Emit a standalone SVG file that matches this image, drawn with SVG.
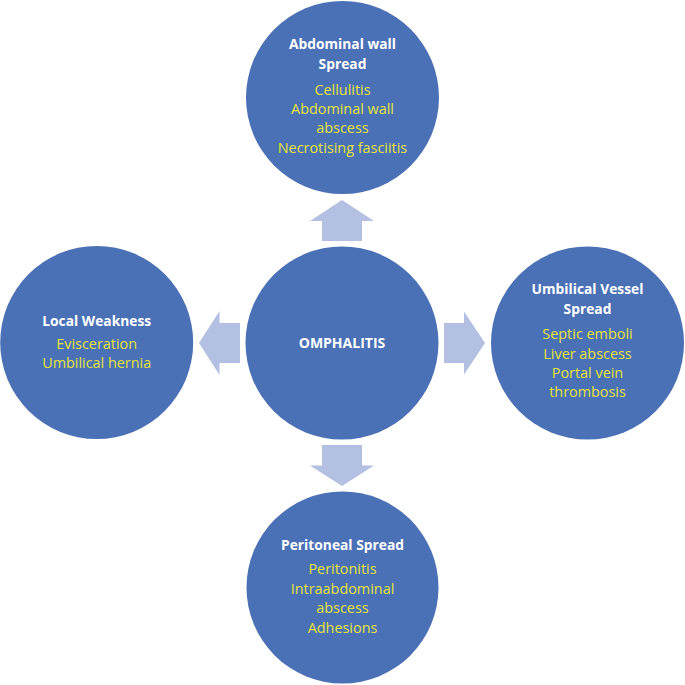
<svg xmlns="http://www.w3.org/2000/svg" width="685" height="685" viewBox="0 0 685 685">
<style>
.c{fill:#4a70b6}
.a{fill:#b3c0e1}
text{font-family:"Open Sans","Noto Sans",sans-serif;text-anchor:middle}
.h{fill:#ffffff;font-weight:bold;font-size:13.8px}
.t{fill:#e6e43a;font-size:14.4px}
</style>
<rect width="685" height="685" fill="#ffffff"/>
<g id="connectors">
<polygon class="a" points="322,241 322,221 310,221 342,200 374,221 362,221 362,241"/>
<polygon class="a" points="444,323 464,323 464,311.5 485,343 464,374.5 464,363 444,363"/>
<polygon class="a" points="240,323 219.5,323 219.5,311 199,343 219.5,375 219.5,363 240,363"/>
<polygon class="a" points="322,445 362,445 362,465.5 374,465.5 342,486 310,465.5 322,465.5"/>
</g>
<g id="center">
<circle class="c" cx="342" cy="343" r="96.5"/>
<text class="h" x="342" y="348.3" style="font-size:14px">OMPHALITIS</text>
</g>
<g id="top">
<circle class="c" cx="342.5" cy="97.5" r="96.5"/>
<text class="h" x="342.5" y="49.3">Abdominal wall</text>
<text class="h" x="342.5" y="69.2">Spread</text>
<text class="t" x="342.5" y="95">Cellulitis</text>
<text class="t" x="342.5" y="113.5">Abdominal wall</text>
<text class="t" x="342.5" y="132.7">abscess</text>
<text class="t" x="342.5" y="152.5">Necrotising fasciitis</text>
</g>
<g id="left">
<circle class="c" cx="96.7" cy="342.5" r="96.5"/>
<text class="h" x="96.7" y="325.7">Local Weakness</text>
<text class="t" x="96.7" y="349.3">Evisceration</text>
<text class="t" x="96.7" y="368.3">Umbilical hernia</text>
</g>
<g id="right">
<circle class="c" cx="587.5" cy="343" r="96.5"/>
<text class="h" x="587.5" y="294.3">Umbilical Vessel</text>
<text class="h" x="587.5" y="314">Spread</text>
<text class="t" x="587.5" y="339.3">Septic emboli</text>
<text class="t" x="587.5" y="358.5">Liver abscess</text>
<text class="t" x="587.5" y="377.7">Portal vein</text>
<text class="t" x="587.5" y="397.3">thrombosis</text>
</g>
<g id="bottom">
<circle class="c" cx="342.5" cy="587.5" r="96"/>
<text class="h" x="342.5" y="550">Peritoneal Spread</text>
<text class="t" x="342.5" y="574.3">Peritonitis</text>
<text class="t" x="342.5" y="594">Intraabdominal</text>
<text class="t" x="342.5" y="613.3">abscess</text>
<text class="t" x="342.5" y="632.7">Adhesions</text>
</g>
</svg>
